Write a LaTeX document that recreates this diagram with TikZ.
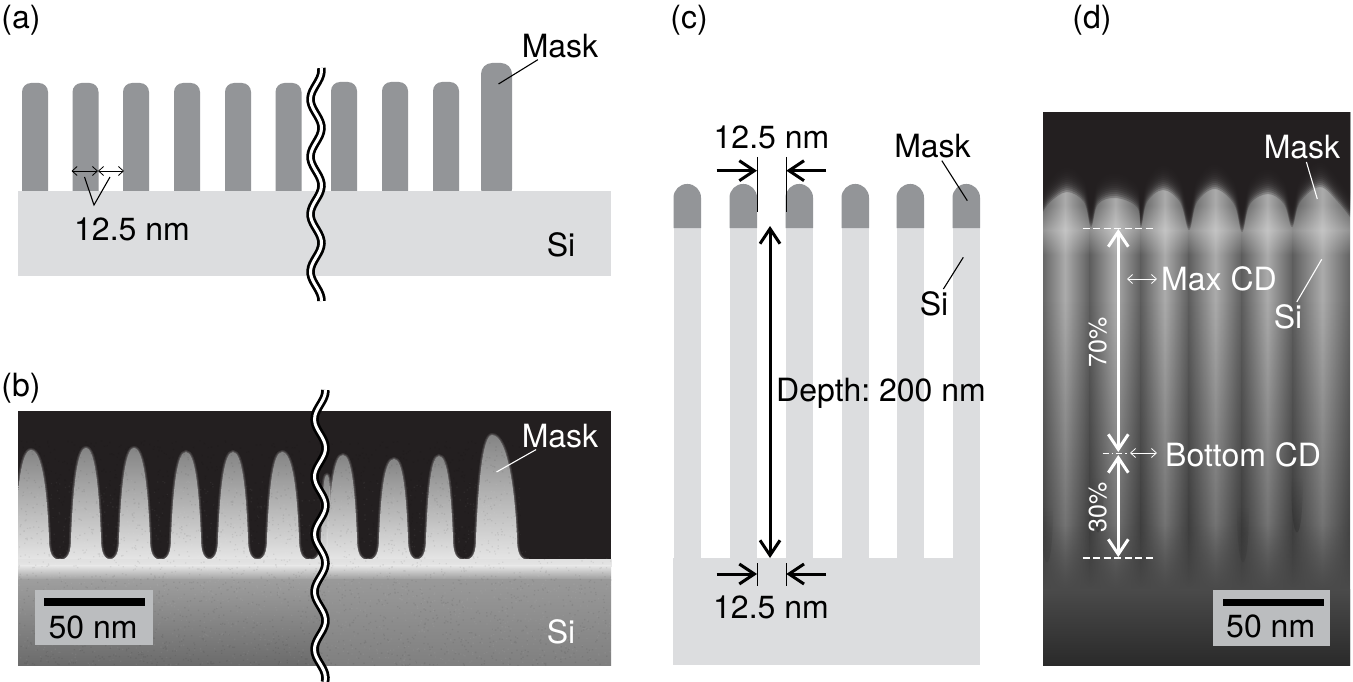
\documentclass[tikz,border=0pt]{standalone}
\usepackage{fontspec}
\setmainfont{TeX Gyre Heros}
\usetikzlibrary{arrows.meta, calc, fadings}
\definecolor{maskgray}{HTML}{939598}
\definecolor{sigray}{HTML}{DCDDDF}
\definecolor{semblack}{HTML}{231F20}
\definecolor{barbox}{HTML}{BBBDBF}
\definecolor{colgap}{HTML}{5E5E5E}
\definecolor{colmid}{HTML}{ABABAB}
\definecolor{semfoot}{HTML}{4A4A4A}
\definecolor{semend}{HTML}{2A2A2A}
\tikzfading[name=darken, top color=transparent!100, bottom color=transparent!0]
\tikzfading[name=band, top color=transparent!100, bottom color=transparent!100, middle color=transparent!0]
\tikzset{
  lbl/.style={font=\fontsize{32}{32}\selectfont, inner sep=0pt, text=black},
  wlbl/.style={lbl, text=white},
  leader/.style={line width=1.1pt, shorten <=3pt},
  wleader/.style={leader, white},
  thinarrow/.style={line width=0.8pt, {Straight Barb[length=5pt,width=9pt]}-{Straight Barb[length=5pt,width=9pt]}},
  fatarrow/.style={line width=3pt, -{Straight Barb[length=15pt,width=20pt]}},
  fatboth/.style={line width=3pt, {Straight Barb[length=15pt,width=20pt]}-{Straight Barb[length=15pt,width=20pt]}},
  whitedash/.style={white, line width=1.1pt, dash pattern=on 7pt off 3.5pt},
}
% wavy break in a panel: x centre, y from, y to, y of a right peak
\newcommand{\breakline}[4]{
  \draw[black, line width=8.5pt] plot[domain=#2:#3, samples=70, smooth, variable=\t] ({#1+5.5*cos((\t-#4)*6.26)}, \t);
  \draw[white, line width=3pt] plot[domain=#2:#3, samples=70, smooth, variable=\t] ({#1+5.5*cos((\t-#4)*6.26)}, \t);
}
% one SEM line: apex x, apex y, half widths at its foot
\newcommand{\semline}[4]{
  \path[preaction={draw, white, line width=4pt, opacity=0.10}, preaction={draw, white, line width=2pt, opacity=0.14},
        shade, top color=black!48, bottom color=black!10]
    ({#1-#3-12}, 560) .. controls ({#1-#3-3}, 560) and ({#1-#3}, 553) .. ({#1-#3}, 538)
    .. controls ({#1-#3+2}, 490) and ({#1-0.62*#3}, #2) .. (#1, #2)
    .. controls ({#1+0.62*#4}, #2) and ({#1+#4-2}, 490) .. ({#1+#4}, 538)
    .. controls ({#1+#4}, 553) and ({#1+#4+3}, 560) .. ({#1+#4+12}, 560) -- cycle;
}
\frenchspacing
\begin{document}
\begin{tikzpicture}[x=1pt, y=-1pt]
  \useasboundingbox (0,0) rectangle (1353,682);
  \fill[white] (0,0) rectangle (1353,682);

  % (a)
  \node[lbl] (tagA) at (21,20) {(a)};
  \fill[sigray] (18,191) rectangle (611,276);
  \foreach \x in {22,72.5,123,174,225,275.5}
    \fill[maskgray, rounded corners=9pt] (\x,200) -- (\x,83) -- (\x+26,83) -- (\x+26,200) -- cycle;
  \foreach \x in {331,382,433}
    \fill[maskgray, rounded corners=9pt] (\x,200) -- (\x,82) -- (\x+26,82) -- (\x+26,200) -- cycle;
  \fill[maskgray, rounded corners=11pt] (481,200) -- (481,63) -- (512,63) -- (512,200) -- cycle;
  \fill[sigray] (18,191) rectangle (611,200);
  \breakline{316}{68}{301}{128}
  \coordinate (gapA) at (71.5,171);
  \coordinate (gapB) at (98,171);
  \coordinate (gapC) at (124,171);
  \draw[thinarrow] (gapA) -- (gapB);
  \draw[thinarrow] (gapB) -- (gapC);
  \node[lbl] (widthA) at (132,229) {12.5 nm};
  \coordinate (veeA) at (84.5,177);
  \coordinate (veeB) at (94,205);
  \coordinate (veeC) at (110,177);
  \draw[line width=1.1pt] (veeA) -- (veeB) -- (veeC);
  \node[lbl] (maskA) at (560,46) {Mask};
  \coordinate (maskAend) at (498.5,84);
  \draw[leader] (maskA) -- (maskAend);
  \node[lbl] (siA) at (561,245) {Si};

  % (b)
  \node[lbl] (tagB) at (21,388) {(b)};
  \fill[semblack] (18,411) rectangle (611,665);
  \begin{scope}
    \clip (18,411) rectangle (611,665);
    \foreach \x/\t/\wl/\wr in {31/450/16/18, 86/448/15/15, 134/448/15/16, 186/452/15/15, 233/452/15/15, 282/452/15/17, 327/475/6/5,
        343/455/15/14, 394/459/15/14, 439/456/13/14, 492/435/16/25}
      \semline{\x}{\t}{\wl}{\wr}
    \shade[top color=black!12, bottom color=black!10] (18,559.7) rectangle (611,566);
    \shade[top color=black!10, bottom color=black!38] (18,565.7) rectangle (320,580);
    \shade[top color=black!38, bottom color=black!58] (18,579.7) rectangle (320,665);
    \shade[top color=black!10, bottom color=black!40] (320,565.7) rectangle (611,580);
    \shade[top color=black!40, bottom color=black!50] (320,579.7) rectangle (611,665);
    % grain of the micrograph
    \pgfmathsetseed{42}
    \fill[black, opacity=0.07] foreach \i in {1,...,3000} {({18+rnd*593}, {440+rnd*225}) rectangle +(1.3,1.3)};
    \fill[white, opacity=0.05] foreach \i in {1,...,1800} {({18+rnd*593}, {480+rnd*185}) rectangle +(1.3,1.3)};
    \fill[semblack] (527,411) rectangle (611,556);
    \fill[semblack] (521,411) rectangle (611,550);
  \end{scope}
  \breakline{320}{390}{682}{448}
  \fill[barbox] (35,590) rectangle (153,645);
  \fill[black] (44,598) rectangle (145,606);
  \node[lbl] (scaleB) at (93,627) {50 nm};
  \node[wlbl] (maskB) at (560,436) {Mask};
  \coordinate (maskBend) at (496.5,472);
  \draw[wleader] (maskB) -- (maskBend);
  \node[wlbl] (siB) at (561,632) {Si};

  % (c)
  \node[lbl] (tagC) at (689,20) {(c)};
  \fill[sigray] (673,558) rectangle (980,665);
  \foreach \x in {673.5,729.5,785.5,841.5,896.5,952.5} {
    \fill[sigray] (\x,228) rectangle (\x+27.5,559);
    \fill[maskgray] (\x,228) -- (\x,197.7) arc[start angle=180, end angle=360, radius=13.75] -- (\x+27.5,228) -- cycle;
  }
  \node[lbl] (widthTop) at (771.5,137) {12.5 nm};
  \coordinate (tickTopA) at (757.3,157);
  \coordinate (tickTopB) at (757.3,212);
  \coordinate (tickTopC) at (786,157);
  \coordinate (tickTopD) at (786,212);
  \draw[line width=1pt] (tickTopA) -- (tickTopB);
  \draw[line width=1pt] (tickTopC) -- (tickTopD);
  \coordinate (arrowTopA) at (716.5,170.7);
  \coordinate (arrowTopB) at (757,170.7);
  \coordinate (arrowTopC) at (826,170.7);
  \coordinate (arrowTopD) at (786.3,170.7);
  \draw[fatarrow] (arrowTopA) -- (arrowTopB);
  \draw[fatarrow] (arrowTopC) -- (arrowTopD);
  \coordinate (depthTop) at (770,226);
  \coordinate (depthBot) at (770,558);
  \draw[fatboth] (depthTop) -- (depthBot);
  \node[lbl] (depth) at (881,393) {Depth: 200 nm};
  \coordinate (tickBotA) at (757.3,563);
  \coordinate (tickBotB) at (757.3,586);
  \coordinate (tickBotC) at (786,563);
  \coordinate (tickBotD) at (786,586);
  \draw[line width=1pt] (tickBotA) -- (tickBotB);
  \draw[line width=1pt] (tickBotC) -- (tickBotD);
  \coordinate (arrowBotA) at (716.5,574);
  \coordinate (arrowBotB) at (757,574);
  \coordinate (arrowBotC) at (826,574);
  \coordinate (arrowBotD) at (786.3,574);
  \draw[fatarrow] (arrowBotA) -- (arrowBotB);
  \draw[fatarrow] (arrowBotC) -- (arrowBotD);
  \node[lbl] (widthBot) at (771,607) {12.5 nm};
  \node[lbl] (maskC) at (932.5,146) {Mask};
  \coordinate (maskCend) at (967.3,200.7);
  \draw[leader] (maskC) -- (maskCend);
  \node[lbl] (siC) at (934,304) {Si};
  \coordinate (siCend) at (963.3,257.3);
  \draw[leader] (siC) -- (siCend);

  % (d)
  \node[lbl] (tagD) at (1092,20) {(d)};
  \begin{scope}
    \clip (1043,113) rectangle (1350,665);
    % bright columns, one per line
    \foreach \a/\b in {1040/1090, 1089.5/1141, 1140.5/1189, 1188.5/1242, 1241.5/1293, 1292.5/1352}
      \shade[left color=colgap, right color=colgap, middle color=colmid] (\a,113) rectangle (\b,665);
    \fill[white, opacity=0.30, path fading=band] (1043,205) rectangle (1350,255);
    \fill[black, opacity=0.42, path fading=darken] (1043,300) rectangle (1350,590);
    % ends of the trenches
    \foreach \x/\y in {1098/547, 1243/577, 1297/547, 1047/577}
      \fill[black, opacity=0.22, path fading=darken] (\x-6,\y-70) .. controls (\x-6,\y+4) and (\x+6,\y+4) .. (\x+6,\y-70) -- cycle;
    % foot of the picture, the columns die out
    \fill[semfoot, path fading=darken] (1043,525) rectangle (1350,590);
    \shade[top color=semfoot, bottom color=semend] (1043,589.5) rectangle (1350,665);
    % dark field over the heads, layered so that its edge is soft
    \foreach \d in {-12,-10,...,12}
      \fill[semblack, opacity=0.27, yshift=-\d pt] (1030,90) -- (1370,90) -- (1370,215) --
        plot[smooth, tension=0.6] coordinates {(1350,205) (1338,190) (1320,175) (1300,190) (1292,215) (1284,192) (1268,182) (1250,192) (1242,220) (1234,192) (1215,177) (1197,190) (1189,218) (1180,190) (1163,178) (1147,190) (1141,215) (1137,195) (1116,186) (1098,192) (1091,215) (1084,190) (1067,180) (1050,190) (1043,200)}
        -- (1030,215) -- cycle;
  \end{scope}
  \node[wlbl] (maskD) at (1302,147) {Mask};
  \coordinate (maskDend) at (1317.3,199);
  \draw[wleader] (maskD) -- (maskDend);
  \node[wlbl] (siD) at (1288,317) {Si};
  \coordinate (siDend) at (1321.7,259.3);
  \draw[wleader] (siD) -- (siDend);
  \coordinate (dashTopA) at (1082.7,228.3);
  \coordinate (dashTopB) at (1156,228.3);
  \draw[whitedash] (dashTopA) -- (dashTopB);
  \coordinate (dashMidA) at (1102.7,453);
  \coordinate (dashMidB) at (1128,453);
  \draw[white, line width=0.8pt, dash pattern=on 6pt off 3pt on 1.5pt off 3pt] (dashMidA) -- (dashMidB);
  \coordinate (dashBotA) at (1082.7,558);
  \coordinate (dashBotB) at (1156,558);
  \draw[whitedash] (dashBotA) -- (dashBotB);
  \coordinate (spanTop) at (1118.3,229);
  \coordinate (spanMidA) at (1118.3,452);
  \coordinate (spanMidB) at (1118.3,455);
  \coordinate (spanBot) at (1118.3,557);
  \draw[fatboth, white] (spanTop) -- (spanMidA);
  \draw[fatboth, white] (spanMidB) -- (spanBot);
  \node[wlbl, font=\fontsize{25}{25}\selectfont, rotate=90] (pctUp) at (1097.7,342) {70\%};
  \node[wlbl, font=\fontsize{25}{25}\selectfont, rotate=90] (pctLow) at (1097.7,507) {30\%};
  \node[wlbl, anchor=west] (maxCD) at (1161,279) {Max CD};
  \node[wlbl, anchor=west] (botCD) at (1165,455) {Bottom CD};
  \coordinate (maxCDa) at (1127,279);
  \coordinate (maxCDb) at (1157,279);
  \draw[thinarrow, white] (maxCDa) -- (maxCDb);
  \coordinate (botCDa) at (1130,453);
  \coordinate (botCDb) at (1157,453);
  \draw[thinarrow, white] (botCDa) -- (botCDb);
  \fill[barbox] (1212.7,590) rectangle (1330,645.7);
  \fill[black] (1223,598.7) rectangle (1324,606);
  \node[lbl] (scaleD) at (1270.7,626.7) {50 nm};
\end{tikzpicture}
\end{document}
